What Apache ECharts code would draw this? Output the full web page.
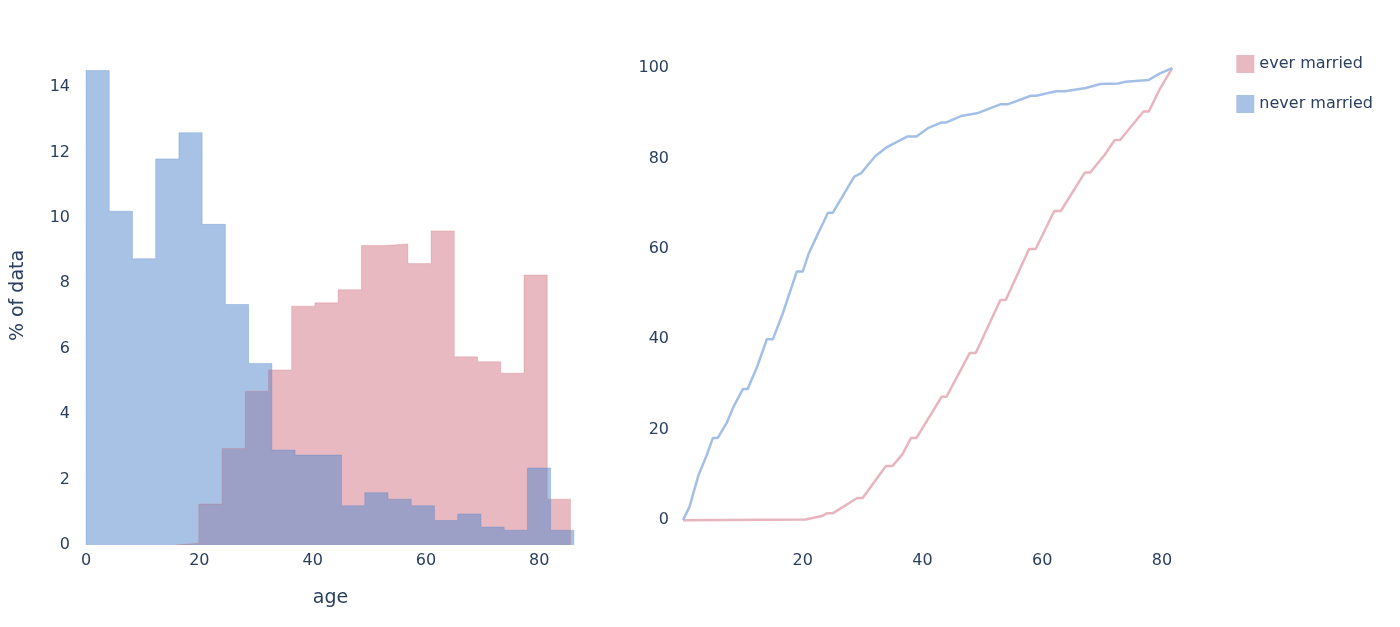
<!DOCTYPE html>
<html>
<head>
<meta charset="utf-8">
<script src="https://cdn.jsdelivr.net/npm/echarts@6/dist/echarts.min.js"></script>
<style>html,body{margin:0;background:#fff}#main{width:1400px;height:627px}</style>
</head>
<body>
<div id="main"></div>
<script>
// 直方图: 分箱起点 + 宽度
let binWidth = 4.1
let neverStart = 0
let neverHist = [14.5, 10.2, 8.75, 11.8, 12.6, 9.8, 7.35, 5.55, 2.9, 2.75, 2.75, 1.2, 1.6, 1.4, 1.2, 0.75, 0.95, 0.55, 0.45, 2.35, 0.45]
let everStart = 15.8
let everHist = [0.05, 1.25, 2.95, 4.7, 5.35, 7.3, 7.4, 7.8, 9.15, 9.2, 8.6, 9.6, 5.75, 5.6, 5.25, 8.25, 1.4]

// 累积分布 (年龄, %)
let neverCdfAge = [0,1.1,2.6,4,5,5.8,7.3,8.4,10,10.8,12.4,14,15,16.6,19,20,21,22.4,23.5,24.2,25,28.6,29.7,32.1,33.9,37.5,39,41,43.2,44,46.4,49.1,53,54.2,58.1,59,62.3,63.8,67.3,69.7,72.7,73.9,77.8,79.6,81.7]
let neverCdf = [0,3,10,14.5,18.2,18.2,21.5,25,29,29,34,40,40,45.5,55,55,59,63,66,68,68,76,76.7,80.5,82.4,84.9,84.9,86.8,88,88,89.4,90,92,92,93.9,93.9,94.9,94.9,95.6,96.5,96.6,97,97.4,98.8,100]
let everCdfAge = [0,20.5,23.2,24,25,29.1,30,33.9,35,36.6,38.1,39,43.2,44,47.9,48.9,53,53.9,57.8,58.9,62,63.1,67.1,68,70.4,72.1,73,76.9,77.8,79.6,81.7]
let everCdf = [0,0.15,0.9,1.5,1.5,4.9,4.9,12,12,14.5,18.2,18.2,27.3,27.3,37,37,48.7,48.7,60,60,68.4,68.4,76.9,76.9,80.8,84.1,84.1,90.4,90.4,95.3,100]

let blue = 'rgba(81,133,205,0.5)'
let red = 'rgba(209,115,129,0.5)'
let blueLine = '#a3bfe6'
let redLine = '#e8b4bd'
let txt = '#2a3f5f'
let font = 'DejaVu Sans'

//把直方图转成阶梯折线点
function stepPoints(start, hist){
    let pts = [[start, 0]]
    hist.forEach((h, i) => { pts.push([start + i * binWidth, h]) })
    let end = start + hist.length * binWidth
    pts.push([end, hist[hist.length - 1]])
    pts.push([end, 0])
    return pts
}
function zip(a, b){ return a.map((v, i) => [v, b[i]]) }

let axisLabel = {color: txt, fontSize: 16, fontFamily: font}
let chart = echarts.init(document.getElementById('main'))
chart.setOption({
    animation: false,
    legend: {
        right: 22, top: 50, orient: 'vertical', itemGap: 22,
        icon: 'rect', itemWidth: 18, itemHeight: 18,
        textStyle: {color: txt, fontSize: 16, fontFamily: font},
        data: ['ever married', 'never married']
    },
    grid: [
        {left: 86, right: 825, top: 46, bottom: 82},
        {left: 683, right: 226, top: 46, bottom: 82}
    ],
    xAxis: [
        {type: 'value', gridIndex: 0, min: 0, max: 86.3, interval: 20,
         name: 'age', nameLocation: 'middle', nameGap: 44,
         nameTextStyle: {color: txt, fontSize: 19, fontFamily: font},
         axisLine: {show: false}, axisTick: {show: false}, splitLine: {show: false},
         axisLabel: Object.assign({showMaxLabel: false}, axisLabel)},
        {type: 'value', gridIndex: 1, min: 0, max: 82,
         axisLine: {show: false}, axisTick: {show: false}, splitLine: {show: false},
         axisLabel: Object.assign({customValues: [20, 40, 60, 80]}, axisLabel)}
    ],
    yAxis: [
        {type: 'value', gridIndex: 0, min: 0, max: 15.25, interval: 2,
         name: '% of data', nameLocation: 'middle', nameGap: 58,
         nameTextStyle: {color: txt, fontSize: 19, fontFamily: font},
         axisLine: {show: false}, axisTick: {show: false}, splitLine: {show: false},
         axisLabel: Object.assign({showMaxLabel: false, margin: 16}, axisLabel)},
        {type: 'value', gridIndex: 1, min: -5.5, max: 104.9,
         axisLine: {show: false}, axisTick: {show: false}, splitLine: {show: false},
         axisLabel: Object.assign({customValues: [0, 20, 40, 60, 80, 100], margin: 14}, axisLabel)}
    ],
    series: [
        {name: 'ever married', type: 'line', step: 'end', xAxisIndex: 0, yAxisIndex: 0,
         data: stepPoints(everStart, everHist), showSymbol: false, itemStyle: {color: red},
         lineStyle: {color: 'rgba(209,115,129,0.3)', width: 1}, areaStyle: {color: red, opacity: 1}},
        {name: 'never married', type: 'line', step: 'end', xAxisIndex: 0, yAxisIndex: 0,
         data: stepPoints(neverStart, neverHist), showSymbol: false, itemStyle: {color: blue},
         lineStyle: {color: 'rgba(81,133,205,0.3)', width: 1}, areaStyle: {color: blue, opacity: 1}},
        {name: 'ever married', type: 'line', xAxisIndex: 1, yAxisIndex: 1,
         data: zip(everCdfAge, everCdf), showSymbol: false, itemStyle: {color: red},
         lineStyle: {color: redLine, width: 2.5}},
        {name: 'never married', type: 'line', xAxisIndex: 1, yAxisIndex: 1,
         data: zip(neverCdfAge, neverCdf), showSymbol: false, itemStyle: {color: blue},
         lineStyle: {color: blueLine, width: 2.5}}
    ]
})
</script>
</body>
</html>
